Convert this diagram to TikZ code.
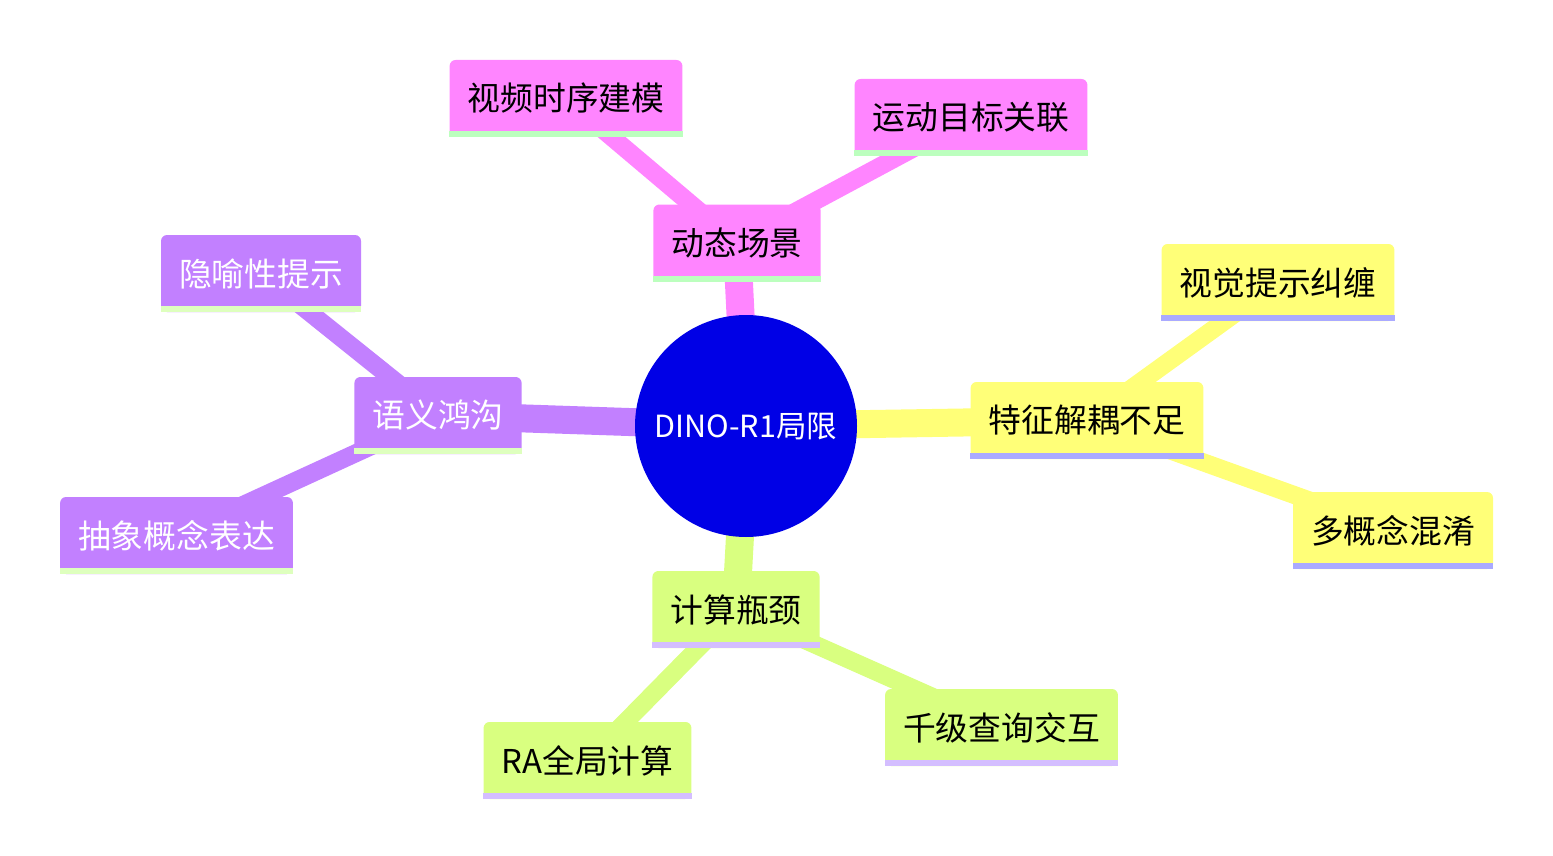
\documentclass[tikz,border=0pt]{standalone}
\usepackage{fontspec}
\setmainfont{Noto Sans CJK SC}
\usetikzlibrary{positioning}
\definecolor{mmpink}{RGB}{255,133,255}
\definecolor{mmpinkline}{RGB}{188,255,190}
\definecolor{mmyellow}{RGB}{255,255,120}
\definecolor{mmyellowline}{RGB}{170,170,255}
\definecolor{mmgreen}{RGB}{217,255,128}
\definecolor{mmgreenline}{RGB}{212,190,255}
\definecolor{mmpurple}{RGB}{194,128,255}
\definecolor{mmpurpleline}{RGB}{222,255,190}
\definecolor{mmroot}{RGB}{0,0,230}
\pgfdeclarelayer{background}
\pgfsetlayers{background,main}

\begin{document}
\begin{tikzpicture}[x=1pt,y=-1pt,
    box/.style={fill=#1,rounded corners=6pt,minimum height=77pt,inner xsep=18pt,inner ysep=0pt,
      font=\fontsize{32.8}{36}\selectfont},
    rootedge/.style={line width=28pt,draw=#1},
    leafedge/.style={line width=18pt,draw=#1}]
    \useasboundingbox (0,0) rectangle (1553,856);
    \node[circle,fill=mmroot,minimum size=222pt,inner sep=0pt,text=white,
      font=\fontsize{30.5}{36}\selectfont] (root) at (746,426) {DINO-R1局限};
    % dynamic scenes
    \node[box=mmpink] (dyn) at (737,243) {动态场景};
    \node[box=mmpink] (video) at (566,98.5) {视频时序建模};
    \node[box=mmpink] (motion) at (971,117.5) {运动目标关联};
    % decoupling
    \node[box=mmyellow] (decouple) at (1087,420.5) {特征解耦不足};
    \node[box=mmyellow] (tangle) at (1278,282.5) {视觉提示纠缠};
    \node[box=mmyellow] (multi) at (1393,530.5) {多概念混淆};
    % compute
    \node[box=mmgreen] (comp) at (736,609.5) {计算瓶颈};
    \node[box=mmgreen] (query) at (1001.5,727.5) {千级查询交互};
    \node[box=mmgreen] (ra) at (587.5,760.5) {RA全局计算};
    % semantic gap
    \node[box=mmpurple,text=white] (gap) at (438,415.5) {语义鸿沟};
    \node[box=mmpurple,text=white] (meta) at (261,273.5) {隐喻性提示};
    \node[box=mmpurple,text=white] (abstr) at (176.5,535.5) {抽象概念表达};
    \foreach \n/\c in {dyn/mmpinkline,video/mmpinkline,motion/mmpinkline,
      decouple/mmyellowline,tangle/mmyellowline,multi/mmyellowline,
      comp/mmgreenline,query/mmgreenline,ra/mmgreenline,
      gap/mmpurpleline,meta/mmpurpleline,abstr/mmpurpleline}
      \fill[\c] (\n.south west) rectangle ([yshift=6pt]\n.south east);
    \begin{pgfonlayer}{background}
      \draw[rootedge=mmpink] (root.center) -- (dyn.center);
      \draw[rootedge=mmyellow] (root.center) -- (decouple.center);
      \draw[rootedge=mmgreen] (root.center) -- (comp.center);
      \draw[rootedge=mmpurple] (root.center) -- (gap.center);
      \draw[leafedge=mmpink] (dyn.center) -- (video.center);
      \draw[leafedge=mmpink] (dyn.center) -- (motion.center);
      \draw[leafedge=mmyellow] (decouple.center) -- (tangle.center);
      \draw[leafedge=mmyellow] (decouple.center) -- (multi.center);
      \draw[leafedge=mmgreen] (comp.center) -- (query.center);
      \draw[leafedge=mmgreen] (comp.center) -- (ra.center);
      \draw[leafedge=mmpurple] (gap.center) -- (meta.center);
      \draw[leafedge=mmpurple] (gap.center) -- (abstr.center);
    \end{pgfonlayer}
  \end{tikzpicture}
\end{document}
